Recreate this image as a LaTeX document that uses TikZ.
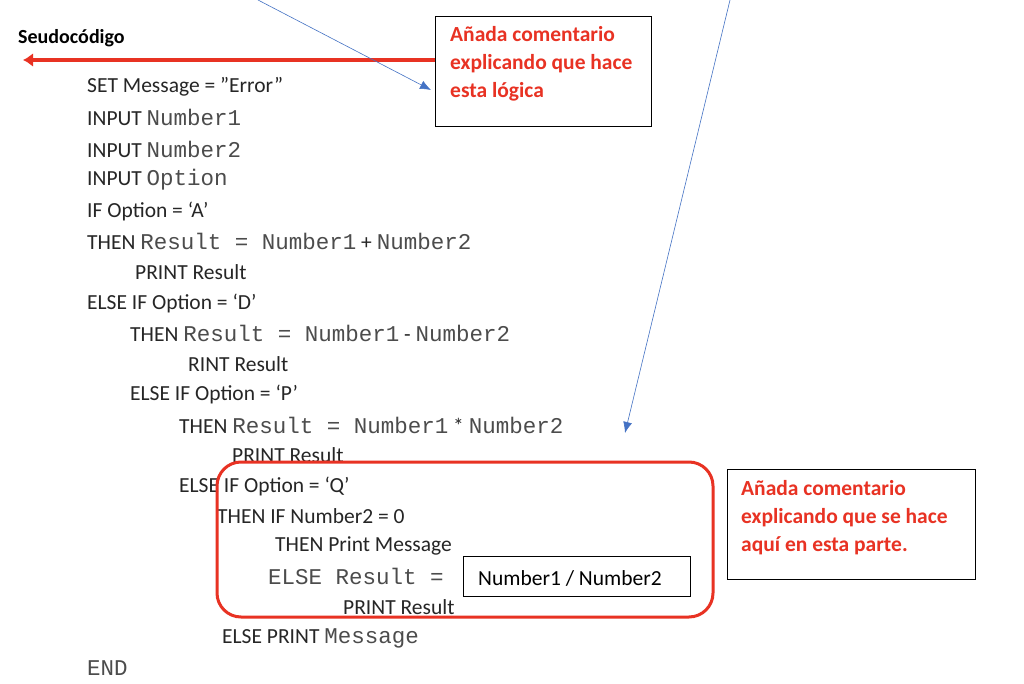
\documentclass[tikz,border=0pt]{standalone}
\usepackage{fontspec}
\usetikzlibrary{arrows.meta}
\setmainfont{Carlito}
\newfontfamily\cour{Liberation Mono}
\definecolor{cred}{RGB}{232,50,35}
\definecolor{cblue}{RGB}{68,114,196}
\newcommand\mn{\cour\fontsize{22.5}{24}\selectfont\color{black!70}}
\begin{document}
\begin{tikzpicture}[x=1pt,y=-1pt,
  code/.style={anchor=west,inner sep=0pt,font=\fontsize{21.5}{23}\selectfont,text=black!85},
  cbox/.style={draw=black,line width=0.8pt,anchor=north west,inner sep=0pt},
  ctext/.style={anchor=north west,inner sep=0pt,align=left,text=cred,font=\bfseries\fontsize{21.5}{28}\selectfont},
  blue/.style={draw=cblue,line width=0.6pt,-{Latex[length=11pt,width=9pt]}}]
\useasboundingbox (0,0) rectangle (1024,684);
\fill[white] (0,0) rectangle (1024,684);
\node[anchor=west,inner sep=0pt,font=\bfseries\fontsize{20}{22}\selectfont] (title) at (18,38) {Seudocódigo};
\node[code] (l1) at (87,87) {SET Message = ”Error”};
\node[code] (l2) at (87,117) {INPUT {\mn Number1}};
\node[code] (l3) at (87,149) {INPUT {\mn Number2}};
\node[code] (l4) at (87,180) {INPUT {\mn Option}};
\node[code] (l5) at (87,211) {IF Option = ‘A’};
\node[code] (l6) at (87,241) {THEN {\mn Result = Number1} + {\mn Number2}};
\node[code] (l7) at (135,272) {PRINT Result};
\node[code] (l8) at (87,303) {ELSE IF Option = ‘D’};
\node[code] (l9) at (130,333) {THEN {\mn Result = Number1} - {\mn Number2}};
\node[code] (l10) at (188,364) {RINT Result};
\node[code] (l11) at (130,394) {ELSE IF Option = ‘P’};
\node[code] (l12) at (179,425) {THEN {\mn Result = Number1} * {\mn Number2}};
\node[code] (l13) at (232,455) {PRINT Result};
\node[code] (l14) at (179,486) {ELSE IF Option = ‘Q’};
\node[code] (l15) at (217,516) {THEN IF Number2 = 0};
\node[code] (l16) at (275,546) {THEN Print Message};
\node[code] (l17) at (268,576) {\mn ELSE Result =};
\node[cbox,minimum width=227pt,minimum height=40pt] (nb) at (463,556) {};
\node[code,text=black] (nbt) at (478,578) {Number1 / Number2};
\node[code] (l18) at (343,607) {PRINT Result};
\node[code] (l19) at (222,638) {ELSE PRINT {\mn Message}};
\node[code] (l20) at (87,668) {\mn END};
\draw[cred,line width=3pt,rounded corners=24pt] (217,462) rectangle (713,617);
\node[cbox,minimum width=216pt,minimum height=110pt] (c1) at (435,16) {};
\node[ctext] (c1t) at (450,26) {Añada comentario\\explicando que hace\\esta lógica};
\node[cbox,minimum width=248pt,minimum height=110pt] (c2) at (727,469) {};
\node[ctext] (c2t) at (741,480) {Añada comentario\\explicando que se hace\\aquí en esta parte.};
\coordinate (ra) at (c1.west |- 0,60);
\coordinate (rb) at (23,60);
\draw[cred,line width=4pt,-{Latex[length=10pt,width=14pt]}] (ra) -- (rb);
\coordinate (b1s) at (258,0); \coordinate (b1e) at (431,90);
\draw[blue] (b1s) -- (b1e);
\coordinate (b2s) at (730,0); \coordinate (b2e) at (625,433);
\draw[blue] (b2s) -- (b2e);
\end{tikzpicture}
\end{document}
